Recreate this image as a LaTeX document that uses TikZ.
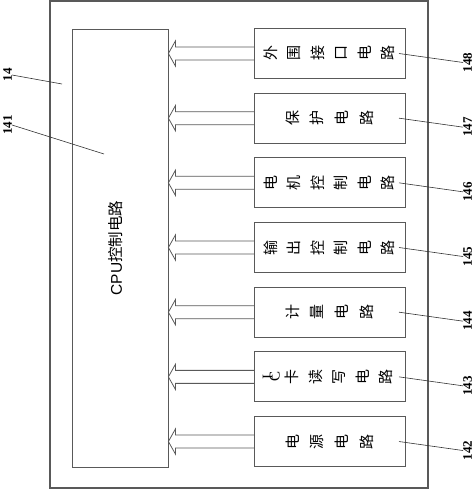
\documentclass[tikz,border=0pt]{standalone}
\usepackage{fontspec}
\setmainfont{Liberation Serif}
\setsansfont{Liberation Sans}
\newfontfamily\cjk{Noto Sans CJK SC}
\usetikzlibrary{positioning}
\definecolor{linegray}{gray}{0.35}
% glyphs set one by one along a box: #1 box, #2 first offset, #3 pitch, #4 glyphs
\newcommand{\glyphs}[4]{\foreach \ch [count=\k] in {#4}
  \node [glyph] (#1-\k) at ([xshift={#2pt+(\k-1)*#3pt}]#1.center) {\ch};}

\begin{document}
\begin{tikzpicture}[x=1pt,y=-1pt]
  \tikzset{box/.style={draw=linegray, line width=0.8pt, minimum width=151pt, minimum height=50pt, inner sep=0pt, outer sep=0pt},
    glyph/.style={rotate=90, inner sep=0pt, text height=13.2pt, text depth=1.8pt, font=\fontsize{15}{15}\cjk},
    num/.style={rotate=90, inner sep=0pt, font=\fontsize{13}{13}\selectfont\bfseries},
    bus/.style={draw=linegray, line width=0.8pt},
    lead/.style={draw=black!80, line width=0.6pt},
    node distance=14.67pt}
  \useasboundingbox (0,0) rectangle (474,489);
    % Outer Nodes
    \node [draw=linegray, line width=1.2pt, minimum width=378pt, minimum height=487pt] (outer) at (239,244.5) {};
    \node [draw=linegray, line width=0.8pt, minimum width=95.3pt, minimum height=438pt] (cpu) at (120.35,248) {};
    \node [rotate=90, font=\fontsize{15.5}{15.5}\cjk] (cpu-text) at (116,248) {{\sffamily CPU}控制电路};
    % Circuit Nodes
    \node [box] (b148) at (329.5,53.5) {};
    \node [box, below=of b148] (b147) {};
    \node [box, below=of b147] (b146) {};
    \node [box, below=of b146] (b145) {};
    \node [box, below=of b145] (b144) {};
    \node [box, below=of b144] (b143) {};
    \node [box, below=of b143] (b142) {};
    % Circuit Texts
    \glyphs{b148}{-58.75}{23.5}{外,围,接,口,电,路}
    \glyphs{b147}{-37}{24.7}{保,护,电,路}
    \glyphs{b146}{-58.75}{23.5}{电,机,控,制,电,路}
    \glyphs{b145}{-58.75}{23.5}{输,出,控,制,电,路}
    \glyphs{b144}{-37}{24.7}{计,量,电,路}
    \glyphs{b143}{-37.5}{23.5}{卡,读,写,电,路}
    \glyphs{b142}{-37}{24.7}{电,源,电,路}
    \node [glyph, font=\fontsize{15}{15}\selectfont] (b143-i) at ([xshift=-62.5pt]b143.center) {I};
    \node [glyph, font=\fontsize{15}{15}\selectfont] (b143-c) at ([xshift=-55.5pt]b143.center) {C};
    % Arrows and Labels
    \foreach \b in {148,147,146,145,144,143,142}{
      \coordinate (t\b) at (cpu.east |- b\b.west);
      \draw[bus] ([yshift=6.5pt]b\b.west) -- ([shift={(7pt,6.5pt)}]t\b) -- ([shift={(7pt,12.5pt)}]t\b) -- (t\b)
        -- ([shift={(7pt,-12.5pt)}]t\b) -- ([shift={(7pt,-6.5pt)}]t\b) -- ([yshift=-6.5pt]b\b.west);
      \node [num, anchor=north] (n\b) at ([shift={(58pt,-9pt)}]b\b.east) {\b};
      \draw[lead] ([xshift=-6pt]b\b.east) -- (n\b.north);
    }
    \coordinate (p14) at (62,84);
    \coordinate (p141) at (104,154);
    \node [num, anchor=south] (n14) at (12,75) {14};
    \node [num, anchor=south] (n141) at (12,125) {141};
    \draw[lead] (p14) -- (n14.south);
    \draw[lead] (p141) -- (n141.south);
\end{tikzpicture}
\end{document}
